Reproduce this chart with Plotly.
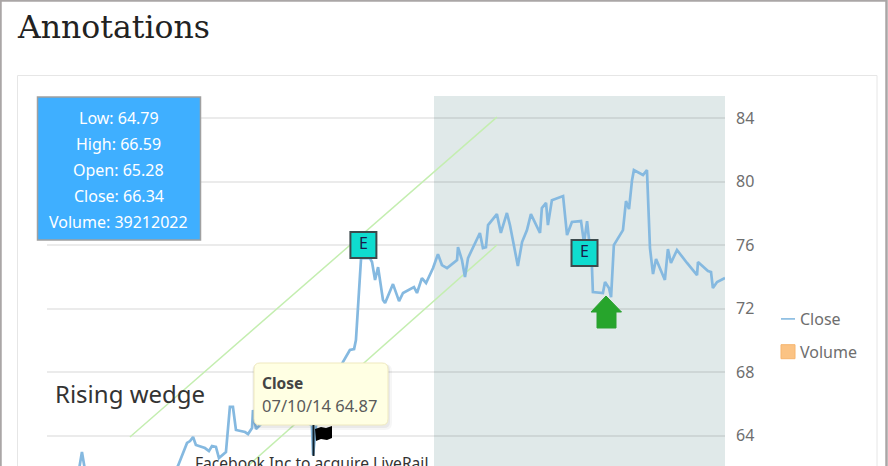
import plotly.graph_objects as go

W, H = 888, 466

# Days since the start of the chart's time span, with closing prices
close_day = [13.7, 15.0, 16.3, 31.3, 52.8, 56.2, 60.1, 61.4, 62.7, 63.9, 67.8, 69.5, 70.8, 72.5, 73.8, 76.8,
             78.5, 79.8, 81.1, 85.0, 86.3, 88.0, 88.4, 89.7, 92.3, 97.9, 104.3, 110.7, 113.7, 114.2, 115.5,
             120.6, 127.0, 130.0, 131.8, 132.6, 133.0, 134.8, 138.6, 139.5, 140.8, 142.1, 144.2, 145.1,
             148.5, 151.1, 152.8, 157.5, 158.8, 160.9, 162.7, 165.7, 167.8, 169.5, 171.7, 176.0, 176.4,
             178.1, 179.4, 180.7, 185.8, 187.1, 188.4, 189.3, 193.1, 194.8, 197.4, 198.7, 202.1, 203.9,
             206.0, 207.7, 211.6, 212.4, 214.2, 215.0, 216.7, 221.5, 223.2, 225.3, 229.2, 230.5, 231.8,
             233.9, 234.3, 238.6, 239.5, 241.2, 242.1, 243.3, 247.2, 248.5, 249.8, 251.1, 251.9, 255.8,
             257.5, 258.8, 260.1, 261.4, 265.2, 266.5, 267.8, 270.4, 274.7, 277.3, 279.0, 279.4, 283.7,
             285.0, 285.8, 287.6, 291.0]
close_price = [61.83, 62.96, 61.83, 60.57, 61.2, 62.08, 63.53, 63.65, 63.91, 63.4, 63.21, 63.02, 63.34, 63.28,
               62.58, 62.96, 65.8, 65.8, 64.35, 64.22, 64.09, 64.47, 65.61, 64.41, 64.79, 65.48, 65.1, 64.85,
               64.66, 62.77, 64.66, 66.55, 68.63, 69.39, 69.45, 70.02, 70.96, 75.18, 75.18, 74.93, 73.8, 74.61,
               72.54, 72.35, 73.54, 72.47, 72.98, 73.35, 72.98, 73.92, 73.61, 74.55, 75.43, 74.74, 74.55, 75.06,
               75.87, 75.06, 73.98, 75.18, 76.76, 75.81, 75.87, 77.26, 77.95, 76.76, 78.02, 77.26, 74.68, 76.19,
               76.94, 77.95, 76.76, 78.33, 78.65, 77.26, 78.83, 79.09, 76.63, 77.45, 77.51, 76.13, 77.51, 74.61,
               73.04, 72.98, 73.67, 73.29, 72.72, 76.0, 76.94, 78.77, 78.27, 80.09, 80.72, 80.41, 80.72, 75.81,
               74.17, 75.12, 73.8, 75.75, 74.87, 75.69, 74.87, 74.43, 74.11, 74.93, 74.36, 74.3, 73.29, 73.67,
               73.92]

wedge_upper_day = [35.6, 193.1]
wedge_upper_price = [63.91, 84.06]
wedge_lower_day = [82.8, 193.1]
wedge_lower_price = [61.64, 76.0]

band_days = [166.1, 291.0]

earnings_day = [135.8, 230.7]
earnings_price = [76.0, 75.5]
earnings_labels = ["E", "E"]

tick_values = [64, 68, 72, 76, 80, 84]
info_lines = ["Low: 64.79", "High: 66.59", "Open: 65.28", "Close: 66.34", "Volume: 39212022"]
tooltip_title = "Close"
tooltip_text = "07/10/14 64.87"
wedge_label = "Rising wedge"
flag_label = "Facebook Inc to acquire LiveRail"
volume_values = [39212022]
volume_day = [114.0]

SANS = "Noto Sans, Open Sans, sans-serif"


def px(x):
    return x / W


def py(y):
    return 1 - y / H


def rect(x0, y0, x1, y1, **kw):
    return dict(type="rect", xref="paper", yref="paper", x0=px(x0), x1=px(x1), y0=py(y0), y1=py(y1), **kw)


def rounded(x0, y0, x1, y1, r):
    pts = [
        f"M{px(x0 + r)},{py(y0)}", f"L{px(x1 - r)},{py(y0)}", f"Q{px(x1)},{py(y0)} {px(x1)},{py(y0 + r)}",
        f"L{px(x1)},{py(y1 - r)}", f"Q{px(x1)},{py(y1)} {px(x1 - r)},{py(y1)}",
        f"L{px(x0 + r)},{py(y1)}", f"Q{px(x0)},{py(y1)} {px(x0)},{py(y1 - r)}",
        f"L{px(x0)},{py(y0 + r)}", f"Q{px(x0)},{py(y0)} {px(x0 + r)},{py(y0)}", "Z",
    ]
    return " ".join(pts)


def poly(points):
    return "M" + " L".join(f"{px(x)},{py(y)}" for x, y in points) + " Z"


fig = go.Figure()

wedge_style = dict(color="#c4eeb0", width=1.5)
fig.add_trace(go.Scatter(x=wedge_upper_day, y=wedge_upper_price, mode="lines", line=wedge_style,
                         showlegend=False, hoverinfo="skip"))
fig.add_trace(go.Scatter(x=wedge_lower_day, y=wedge_lower_price, mode="lines", line=wedge_style,
                         showlegend=False, hoverinfo="skip"))
fig.add_trace(go.Scatter(x=close_day, y=close_price, mode="lines", name="Close",
                         line=dict(color="#85b9e0", width=2.7), legendgroup="a"))
fig.add_trace(go.Bar(x=volume_day, y=volume_values, name="Volume", yaxis="y2",
                     marker=dict(color="#fbc384", line=dict(color="#f6b56f", width=1)), legendgroup="b"))
fig.add_trace(go.Scatter(x=earnings_day, y=earnings_price, mode="markers+text", text=earnings_labels,
                         textposition="middle center", textfont=dict(family=SANS, size=16, color="#1a1a4a"),
                         marker=dict(symbol="square", size=26, color="#0fdccf", line=dict(color="#3c4a4c", width=2)),
                         showlegend=False, hoverinfo="skip"))

shapes = [
    rect(0.5, 0.5, 886.5, 480, line=dict(color="#aaa6a6", width=2.5), layer="below"),
    rect(17.5, 75.5, 877, 480, line=dict(color="#e6e6e6", width=1), layer="below"),
    dict(type="rect", xref="x", yref="paper", x0=band_days[0], x1=band_days[1], y0=0, y1=py(96),
         fillcolor="#e0e9e9", line=dict(width=0), layer="below"),
    rect(37.5, 97, 200.5, 240, fillcolor="#3fafff", line=dict(color="#a0a0a0", width=1.5)),
    dict(type="path", xref="paper", yref="paper", path=rounded(252, 364, 392, 430, 7),
         fillcolor="rgba(0,0,0,0.035)", line=dict(width=0)),
    dict(type="path", xref="paper", yref="paper", path=rounded(253, 364, 390, 428, 6),
         fillcolor="rgba(0,0,0,0.05)", line=dict(width=0)),
    dict(type="path", xref="paper", yref="paper", path=rounded(254, 363, 388, 425, 6),
         fillcolor="#ffffe3", line=dict(color="#efe9bf", width=1)),
    dict(type="line", xref="paper", yref="paper", x0=px(313.5), x1=px(313.5), y0=py(425), y1=py(456),
         line=dict(color="#10202a", width=2)),
    dict(type="path", xref="paper", yref="paper",
         path=poly([(315, 429), (321, 427), (326, 428), (332, 426), (332, 438), (327, 440), (321, 439), (316, 441)]),
         fillcolor="#000000", line=dict(width=0)),
    dict(type="path", xref="paper", yref="paper",
         path=poly([(606, 296), (621.5, 312), (616, 312), (616, 328), (597, 328), (597, 312), (591, 312)]),
         fillcolor="#27a52c", line=dict(color="#2aa030", width=1)),
]

annotations = [
    dict(xref="paper", yref="paper", x=px(15), y=py(27), text="Annotations", showarrow=False, xanchor="left",
         yanchor="middle", font=dict(family="DejaVu Serif", size=31.5, color="#222222")),
    dict(xref="paper", yref="paper", x=px(53), y=py(393), text=wedge_label, showarrow=False, xanchor="left",
         yanchor="middle", font=dict(family=SANS, size=24, color="#333333")),
    dict(xref="paper", yref="paper", x=px(260), y=py(383), text=f"<b>{tooltip_title}</b>", showarrow=False,
         xanchor="left", yanchor="middle", font=dict(family=SANS, size=15.5, color="#444444")),
    dict(xref="paper", yref="paper", x=px(260), y=py(405), text=tooltip_text, showarrow=False,
         xanchor="left", yanchor="middle", font=dict(family=SANS, size=16.5, color="#5a5a5a")),
    dict(xref="paper", yref="paper", x=px(311), y=py(463), text=flag_label, showarrow=False,
         xanchor="center", yanchor="middle", font=dict(family=SANS, size=15.6, color="#333333")),
]
for i, line in enumerate(info_lines):
    annotations.append(dict(xref="paper", yref="paper", x=px(119), y=py(118 + 26 * i), text=line, showarrow=False,
                            xanchor="center", yanchor="middle", font=dict(family=SANS, size=16, color="#ffffff")))

fig.update_layout(
    width=W, height=H, margin=dict(l=0, r=0, t=0, b=0),
    paper_bgcolor="#ffffff", plot_bgcolor="rgba(0,0,0,0)",
    font=dict(family=SANS),
    xaxis=dict(domain=[47 / W, 725 / W], range=[0, 291], visible=False, fixedrange=True),
    yaxis=dict(domain=[0, 1 - 96 / H], range=[62.08, 85.39], side="right", tickvals=tick_values,
               gridcolor="rgba(0,0,0,0.08)", gridwidth=2, zeroline=False, showline=False, ticks="",
               tickfont=dict(size=16, color="#6e6e6e"), ticklabelstandoff=10),
    yaxis2=dict(overlaying="y", range=[1e9, 2e9], visible=False),
    showlegend=True,
    legend=dict(x=px(760), y=py(302), xanchor="left", yanchor="top", font=dict(size=16, color="#6e6e6e"),
                tracegroupgap=9, bgcolor="rgba(0,0,0,0)"),
    shapes=shapes, annotations=annotations,
)

# Shorten the legend's line sample and enlarge its square to the reference's size
post = """
document.body.style.margin='0';document.documentElement.style.overflow='hidden';
setTimeout(function(){
  document.querySelectorAll('.legendlines path').forEach(function(p){
    p.setAttribute('d','M21,0h14');p.style.strokeWidth='1.6px';});
  document.querySelectorAll('.legendbar path, .legendpoints path').forEach(function(p){
    p.setAttribute('d','M15,7H1V-7H15Z');});
},0);
"""
fig.write_html("out.html", config={"displayModeBar": False}, post_script=post)
